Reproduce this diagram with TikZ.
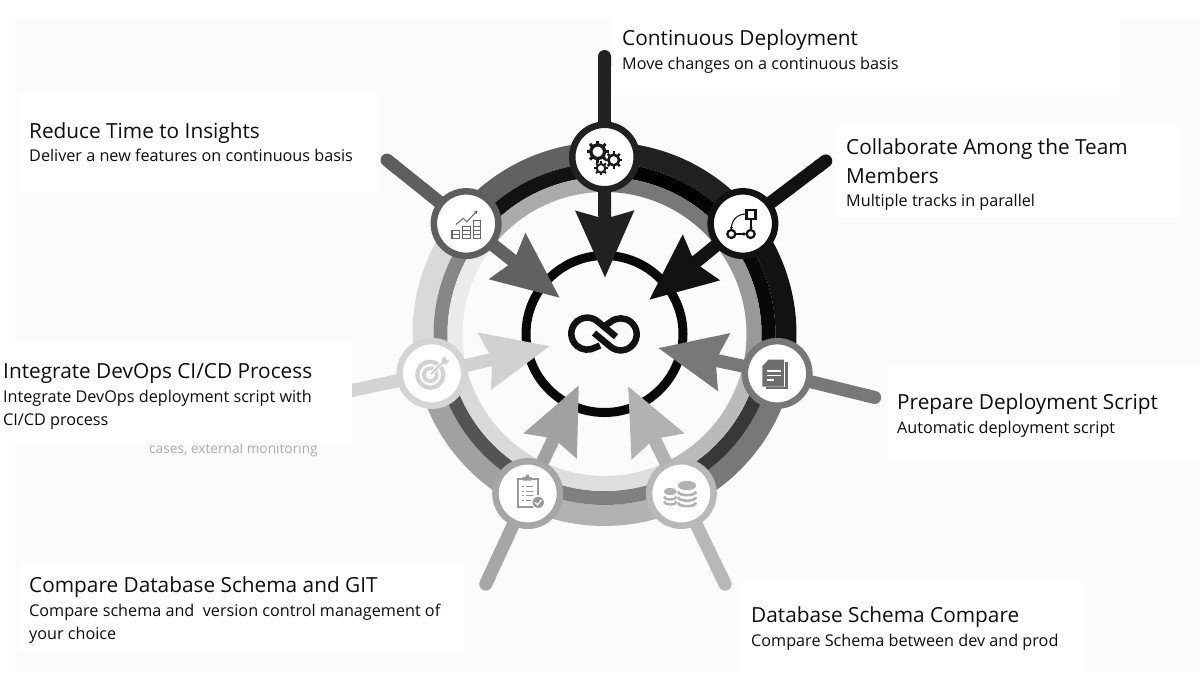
\documentclass[tikz,border=0pt]{standalone}
\usepackage{fontspec}
\setmainfont{Open Sans}
\usetikzlibrary{arrows.meta}
\begin{document}
\begin{tikzpicture}[x=1pt,y=1pt]
    \tikzstyle{hub}=[circle,line width=6.5pt,fill=white,draw,minimum size=64.5pt,inner sep=0pt]
    \tikzstyle{core}=[circle,line width=9pt,draw=black!97,minimum size=157pt,inner sep=0pt]
    \tikzstyle{spoke}=[-{Round Cap[]},shorten <=-2pt,line width=13pt]
    \tikzstyle{pointer}=[-{Stealth[length=66pt,width=56pt,inset=7pt]},shorten <=-2pt,line width=13pt]
    \tikzstyle{panel}=[rectangle,fill=white,anchor=north west,inner sep=0pt]
    \tikzstyle{head}=[anchor=base west,inner sep=0pt,font=\fontsize{20.8}{24}\selectfont,text=black!95]
    \tikzstyle{note}=[anchor=base west,inner sep=0pt,font=\fontsize{16.2}{18}\selectfont,text=black!95]

    \useasboundingbox (0,0) rectangle (1200,-675);
    \fill[black!1.5] (15,-18) rectangle (1200,-672);
    \node[anchor=base west,inner sep=0pt,text=black!32,font=\fontsize{13.7}{16}\selectfont] (residue) at (149,-453) {cases, external monitoring};

    \foreach \a/\b/\co/\cm/\ci in {90/38.57/87/100/53,38.57/-12.86/93/97/40,-12.86/-64.29/53/78/27,-64.29/-115.71/30/50/13,-115.71/-167.14/37/67/15,-167.14/-218.57/15/47/8,-218.57/-270/62/93/33} {
      \draw[line width=21pt,black!\co] (604.5,-334) ++(\a:181.5) arc (\a:\b:181.5);
      \draw[line width=14pt,black!\cm] (604.5,-334) ++(\a:164) arc (\a:\b:164);
      \draw[line width=15pt,black!\ci] (604.5,-334) ++(\a:149.5) arc (\a:\b:149.5);
    }

    \node[core](center) at (604.5,-334) {};
    \node[hub,draw=black!87](gears) at (604.5,-157) {};
    \node[hub,draw=black!93](flow) at (742.9,-223.6) {};
    \node[hub,draw=black!53](doc) at (777.1,-373.4) {};
    \node[hub,draw=black!28](dbase) at (681.3,-493.5) {};
    \node[hub,draw=black!35](clip) at (527.7,-493.5) {};
    \node[hub,draw=black!17](target) at (431.9,-373.4) {};
    \node[hub,draw=black!63](chart) at (466.1,-223.6) {};

    \coordinate (endgears) at (604.5,-50);
    \coordinate (endflow) at (831,-157);
    \coordinate (enddoc) at (881,-399);
    \coordinate (enddbase) at (728,-590);
    \coordinate (endclip) at (483,-590);
    \coordinate (endtarget) at (340,-393);
    \coordinate (endchart) at (382,-156);
    \coordinate (tipgears) at (605,-278);
    \coordinate (tipflow) at (649,-300);
    \coordinate (tipdoc) at (658,-348);
    \coordinate (tipdbase) at (628,-386);
    \coordinate (tipclip) at (579,-385);
    \coordinate (tiptarget) at (550,-346);
    \coordinate (tipchart) at (560,-298);

    \path[spoke,black!87] (gears) edge (endgears);
    \path[spoke,black!93] (flow) edge (endflow);
    \path[spoke,black!53] (doc) edge (enddoc);
    \path[spoke,black!28] (dbase) edge (enddbase);
    \path[spoke,black!35] (clip) edge (endclip);
    \path[spoke,black!17] (target) edge (endtarget);
    \path[spoke,black!63] (chart) edge (endchart);

    \path[pointer,black!87] (gears) edge (tipgears);
    \path[pointer,black!93] (flow) edge (tipflow);
    \path[pointer,black!53] (doc) edge (tipdoc);
    \path[pointer,black!30] (dbase) edge (tipdbase);
    \path[pointer,black!37] (clip) edge (tipclip);
    \path[pointer,black!18] (target) edge (tiptarget);
    \path[pointer,black!62] (chart) edge (tipchart);

    % center logo
    \draw[line width=6.5pt,black!93,line join=round] (616,-336.7) -- (597.6,-321.4) arc (50:300:16) -- (600,-345.5);
    \draw[line width=6.5pt,black!93,line join=round] (594,-333) -- (610.4,-346.6) arc (230:490:16) -- (605.8,-325.2);

    % gears
    \foreach \gx/\gy/\gr in {597.7/151.7/11,613.7/160/8.6,601/168.3/7} {
      \draw[black!90,line width=0.3*\gr] (\gx,-\gy) circle (0.62*\gr);
      \foreach \t in {0,45,...,315}
        \draw[black!90,line width=0.27*\gr] (\gx,-\gy) ++(\t:0.7*\gr) -- ++(\t:0.3*\gr);
    }

    % flow
    \draw[black!93,line width=2.2pt] (746.5,-210) rectangle (755.5,-219.3);
    \draw[black!93,line width=2.2pt] (731.3,-234) circle (4);
    \draw[black!93,line width=2.2pt] (750.7,-234) circle (4);
    \draw[black!93,line width=1.1pt,-{Stealth[length=3pt,width=3.5pt]}] (735.5,-234) -- (746.5,-234);
    \draw[black!93,line width=1.1pt,-{Stealth[length=3pt,width=3.5pt]}] (751,-219.3) -- (751,-229.8);
    \draw[black!93,line width=1.1pt,-{Stealth[length=3pt,width=3.5pt]}] (746.3,-214) .. controls (738,-214) and (732,-219) .. (731.3,-229.8);

    % chart
    \foreach \bx/\by in {452/230.7,462.7/226.7,473.3/220.8} {
      \draw[black!60,line width=1.2pt] (\bx,-\by) rectangle (\bx+7.5,-238.3);
      \draw[black!60,line width=1pt] (\bx,-234.5) -- (\bx+7.5,-234.5);
    }
    \draw[black!60,line width=1pt] (462.7,-230.5) -- (470.2,-230.5);
    \draw[black!60,line width=1pt] (473.3,-230.5) -- (480.8,-230.5);
    \draw[black!60,line width=1pt] (473.3,-226.5) -- (480.8,-226.5);
    \draw[black!60,line width=1pt,-{Stealth[length=3.5pt,width=3.5pt]}] (456,-224.5) -- (463.3,-218.3) -- (466.7,-221.7) -- (477.5,-210.5);

    % document
    \fill[black!57] (766,-361.5) -- (787.7,-361.5) -- (787.7,-388.7) -- (766,-388.7) -- cycle;
    \fill[white] (766,-361.5) rectangle (785,-386.8);
    \fill[black!57] (768.5,-359.7) -- (783.8,-359.7) -- (783.8,-386.5) -- (762.3,-386.5) -- (762.3,-366) -- cycle;
    \draw[white,line width=1.7pt] (766.7,-371.3) -- (780.7,-371.3);
    \draw[white,line width=1.7pt] (766.7,-375.5) -- (780.7,-375.5);
    \draw[white,line width=1.7pt] (766.7,-379.7) -- (774,-379.7);

    % database
    \fill[black!30] (687,-485.5) ellipse (9.2 and 4.6);
    \foreach \ly in {491.5,497,502.5}
      \draw[black!30,line width=2.6pt] (678,-\ly) arc (180:360:9 and 3.7);
    \fill[black!30] (670.3,-491.5) ellipse (6.5 and 3.6);
    \foreach \ly in {496.5,501.5}
      \draw[black!30,line width=2.4pt] (664,-\ly) arc (180:360:6.3 and 3);

    % clipboard
    \draw[black!40,line width=2pt] (517.5,-479) rectangle (537.5,-507);
    \fill[black!40] (523,-480.5) rectangle (531.5,-477) (525.5,-477) rectangle (529,-474.5);
    \foreach \ly in {486.3,491.3,495.7,500}
      \draw[black!40,line width=1pt] (521.5,-\ly) -- (524,-\ly) (526.3,-\ly) -- (533,-\ly);
    \draw[white,line width=1.5pt,fill=black!40] (538.3,-502.3) circle (6.5);
    \draw[white,line width=1.3pt] (535.3,-502.5) -- (537.5,-504.8) -- (541.5,-499.8);

    % target
    \draw[black!18,line width=4.2pt] (430.3,-374.7) circle (13);
    \draw[black!18,line width=3.6pt] (430.3,-374.7) circle (6.5);
    \draw[white,line width=4pt] (433,-372) -- (446,-359);
    \draw[black!18,line width=2.2pt] (431,-374) -- (445,-360.5);
    \fill[black!18] (441.5,-359.5) -- (445,-356) -- (446,-359.5) -- (449.5,-360.5) -- (446,-364) -- (442,-363.5) -- cycle;

    \node[panel,minimum width=508pt,minimum height=77pt] (panelgears) at (612,-18) {};
    \node[panel,minimum width=358pt,minimum height=100pt] (panelchart) at (20,-92) {};
    \node[panel,minimum width=343pt,minimum height=92pt] (panelflow) at (837,-125) {};
    \node[panel,minimum width=352pt,minimum height=102pt] (paneltarget) at (0,-342) {};
    \node[panel,minimum width=313pt,minimum height=93pt] (paneldoc) at (887,-366) {};
    \node[panel,minimum width=444pt,minimum height=90pt] (panelclip) at (20,-562) {};
    \node[panel,minimum width=343pt,minimum height=92pt] (paneldbase) at (741,-580) {};

    \node[head] (headgears) at (622,-45) {Continuous Deployment};
    \node[note] (notegears) at (622,-69) {Move changes on a continuous basis};
    \node[head] (headchart) at (29,-138) {Reduce Time to Insights};
    \node[note] (notechart) at (29,-161) {Deliver a new features on continuous basis};
    \node[head] (headflow) at (846,-154) {Collaborate Among the Team};
    \node[head] (headflowb) at (846,-183) {Members};
    \node[note] (noteflow) at (846,-206) {Multiple tracks in parallel};
    \node[head] (headtarget) at (3,-378) {Integrate DevOps CI/CD Process};
    \node[note] (notetarget) at (3,-402) {Integrate DevOps deployment script with};
    \node[note] (notetargetb) at (3,-425) {CI/CD process};
    \node[head] (headdoc) at (897,-409) {Prepare Deployment Script};
    \node[note] (notedoc) at (897,-433) {Automatic deployment script};
    \node[head] (headclip) at (29,-592) {Compare Database Schema and GIT};
    \node[note] (noteclip) at (29,-616) {Compare schema and\ \ version control management of};
    \node[note] (noteclipb) at (29,-639) {your choice};
    \node[head] (headdbase) at (751,-622) {Database Schema Compare};
    \node[note] (notedbase) at (751,-646) {Compare Schema between dev and prod};
  \end{tikzpicture}
\end{document}
